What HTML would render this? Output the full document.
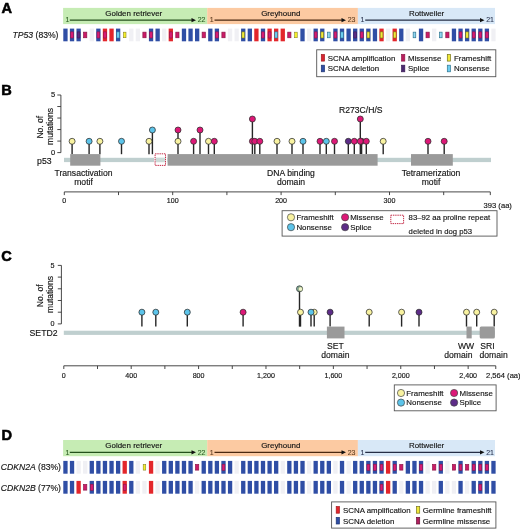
<!DOCTYPE html>
<html><head><meta charset="utf-8"><title>Figure</title>
<style>
html,body{margin:0;padding:0;background:#fff;}
body{width:520px;height:529px;overflow:hidden;}
svg{display:block;}
text{font-family:"Liberation Sans",Arial,sans-serif;fill:#151515;stroke:#151515;stroke-width:0.15px;}
.pl{font-size:14.6px;font-weight:bold;fill:#000;stroke:#000;stroke-width:0.55px;}
.hd{font-size:7.95px;}
.ar{font-size:7.0px;stroke-width:0.08px;}
.gl{font-size:8.6px;}
.lg{font-size:7.9px;}
.tk{font-size:7.1px;}
.yl{font-size:8.5px;}
.an{font-size:8.6px;}
.pr{font-size:8.7px;}
.dm{font-size:8.6px;}
</style></head>
<body>
<svg width="520" height="529" viewBox="0 0 520 529">
<rect width="520" height="529" fill="#fff"/>
<text x="1.6" y="12.7" class="pl">A</text>
<rect x="63.1" y="7.9" width="144.1" height="16.2" fill="#c6ecb4"/>
<rect x="207.2" y="7.9" width="150.7" height="16.2" fill="#fccaa2"/>
<rect x="357.9" y="7.9" width="137.1" height="16.2" fill="#d8e8f7"/>
<text x="133.8" y="15.8" text-anchor="middle" class="hd">Golden retriever</text>
<text x="280.8" y="15.8" text-anchor="middle" class="hd">Greyhound</text>
<text x="426.6" y="15.8" text-anchor="middle" class="hd">Rottweiler</text>
<text x="65.6" y="22.4" class="ar" style="fill:#2a5a22;stroke:#2a5a22">1</text>
<line x1="69.8" y1="20.2" x2="192.5" y2="20.2" stroke="#24501c" stroke-width="1.2"/>
<path d="M191.5,18.099999999999998 L196,20.2 L191.5,22.3 Z" fill="#111"/>
<text x="197.7" y="22.4" class="ar" style="fill:#2a5a22;stroke:#2a5a22">22</text>
<text x="209.7" y="22.4" class="ar" style="fill:#5a3a1e;stroke:#5a3a1e">1</text>
<line x1="214.5" y1="20.2" x2="342.5" y2="20.2" stroke="#4a2810" stroke-width="1.2"/>
<path d="M341.5,18.099999999999998 L346,20.2 L341.5,22.3 Z" fill="#111"/>
<text x="347.7" y="22.4" class="ar" style="fill:#5a3a1e;stroke:#5a3a1e">23</text>
<text x="360.4" y="22.4" class="ar" style="fill:#2b3550;stroke:#2b3550">1</text>
<line x1="365.2" y1="20.2" x2="481.0" y2="20.2" stroke="#252e45" stroke-width="1.2"/>
<path d="M480.0,18.099999999999998 L484.5,20.2 L480.0,22.3 Z" fill="#111"/>
<text x="486.2" y="22.4" class="ar" style="fill:#2b3550;stroke:#2b3550">21</text>
<text x="12.6" y="38.2" class="gl"><tspan font-style="italic">TP53</tspan> (83%)</text>
<rect x="63.30" y="28.6" width="4.3" height="12.70" fill="#2f4ea5"/>
<rect x="69.88" y="28.6" width="4.3" height="12.70" fill="#2f4ea5"/>
<rect x="70.63" y="31.90" width="2.80" height="6.10" fill="#d81b73" stroke="#8e1648" stroke-width="0.6"/>
<rect x="76.47" y="28.6" width="4.3" height="12.70" fill="#2f4ea5"/>
<rect x="77.22" y="31.90" width="2.80" height="6.10" fill="#5b2c83" stroke="#3a1a55" stroke-width="0.6"/>
<rect x="83.60" y="32.16" width="3.20" height="5.59" fill="#cc1c68" stroke="#8e1648" stroke-width="0.7"/>
<rect x="89.64" y="28.6" width="4.3" height="12.70" fill="#f0f0f4"/>
<rect x="96.22" y="28.6" width="4.3" height="12.70" fill="#2f4ea5"/>
<rect x="96.97" y="31.90" width="2.80" height="6.10" fill="#d81b73" stroke="#8e1648" stroke-width="0.6"/>
<rect x="102.81" y="28.6" width="4.3" height="12.70" fill="#e3262b"/>
<rect x="103.56" y="31.90" width="2.80" height="6.10" fill="#d81b73" stroke="#8e1648" stroke-width="0.6"/>
<rect x="109.39" y="28.6" width="4.3" height="12.70" fill="#e3262b"/>
<rect x="115.98" y="28.6" width="4.3" height="12.70" fill="#2f4ea5"/>
<rect x="116.73" y="31.90" width="2.80" height="6.10" fill="#6dcdf0" stroke="#2f7591" stroke-width="0.6"/>
<rect x="123.41" y="32.16" width="2.60" height="5.59" fill="#f6f02c" stroke="#77731a" stroke-width="0.5"/>
<rect x="129.15" y="28.6" width="4.3" height="12.70" fill="#f0f0f4"/>
<rect x="135.74" y="28.6" width="4.3" height="12.70" fill="#f0f0f4"/>
<rect x="142.87" y="32.16" width="3.20" height="5.59" fill="#cc1c68" stroke="#8e1648" stroke-width="0.7"/>
<rect x="148.91" y="28.6" width="4.3" height="12.70" fill="#2f4ea5"/>
<rect x="149.66" y="31.90" width="2.80" height="6.10" fill="#d81b73" stroke="#8e1648" stroke-width="0.6"/>
<rect x="155.49" y="28.6" width="4.3" height="12.70" fill="#2f4ea5"/>
<rect x="162.07" y="28.6" width="4.3" height="12.70" fill="#f0f0f4"/>
<rect x="168.66" y="28.6" width="4.3" height="12.70" fill="#e3262b"/>
<rect x="169.41" y="31.90" width="2.80" height="6.10" fill="#d81b73" stroke="#8e1648" stroke-width="0.6"/>
<rect x="175.80" y="32.16" width="3.20" height="5.59" fill="#cc1c68" stroke="#8e1648" stroke-width="0.7"/>
<rect x="181.83" y="28.6" width="4.3" height="12.70" fill="#2f4ea5"/>
<rect x="188.41" y="28.6" width="4.3" height="12.70" fill="#2f4ea5"/>
<rect x="195.00" y="28.6" width="4.3" height="12.70" fill="#2f4ea5"/>
<rect x="202.13" y="32.16" width="3.20" height="5.59" fill="#cc1c68" stroke="#8e1648" stroke-width="0.7"/>
<rect x="208.17" y="28.6" width="4.3" height="12.70" fill="#2f4ea5"/>
<rect x="214.75" y="28.6" width="4.3" height="12.70" fill="#2f4ea5"/>
<rect x="215.50" y="31.90" width="2.80" height="6.10" fill="#d81b73" stroke="#8e1648" stroke-width="0.6"/>
<rect x="221.89" y="32.16" width="3.20" height="5.59" fill="#cc1c68" stroke="#8e1648" stroke-width="0.7"/>
<rect x="227.93" y="28.6" width="4.3" height="12.70" fill="#f0f0f4"/>
<rect x="234.51" y="28.6" width="4.3" height="12.70" fill="#f0f0f4"/>
<rect x="241.09" y="28.6" width="4.3" height="12.70" fill="#2f4ea5"/>
<rect x="241.84" y="31.90" width="2.80" height="6.10" fill="#f1e93a" stroke="#77731a" stroke-width="0.6"/>
<rect x="247.68" y="28.6" width="4.3" height="12.70" fill="#2f4ea5"/>
<rect x="254.26" y="28.6" width="4.3" height="12.70" fill="#e3262b"/>
<rect x="260.85" y="28.6" width="4.3" height="12.70" fill="#2f4ea5"/>
<rect x="261.60" y="31.90" width="2.80" height="6.10" fill="#d81b73" stroke="#8e1648" stroke-width="0.6"/>
<rect x="267.44" y="28.6" width="4.3" height="12.70" fill="#e3262b"/>
<rect x="268.19" y="31.90" width="2.80" height="6.10" fill="#d81b73" stroke="#8e1648" stroke-width="0.6"/>
<rect x="274.02" y="28.6" width="4.3" height="12.70" fill="#e3262b"/>
<rect x="274.77" y="31.90" width="2.80" height="6.10" fill="#6dcdf0" stroke="#2f7591" stroke-width="0.6"/>
<rect x="280.61" y="28.6" width="4.3" height="12.70" fill="#e3262b"/>
<rect x="287.74" y="32.16" width="3.20" height="5.59" fill="#cc1c68" stroke="#8e1648" stroke-width="0.7"/>
<rect x="294.62" y="32.16" width="2.60" height="5.59" fill="#f6f02c" stroke="#77731a" stroke-width="0.5"/>
<rect x="300.36" y="28.6" width="4.3" height="12.70" fill="#2f4ea5"/>
<rect x="306.94" y="28.6" width="4.3" height="12.70" fill="#f0f0f4"/>
<rect x="313.53" y="28.6" width="4.3" height="12.70" fill="#2f4ea5"/>
<rect x="314.28" y="31.90" width="2.80" height="6.10" fill="#d81b73" stroke="#8e1648" stroke-width="0.6"/>
<rect x="320.12" y="28.6" width="4.3" height="12.70" fill="#2f4ea5"/>
<rect x="320.87" y="31.90" width="2.80" height="6.10" fill="#f1e93a" stroke="#77731a" stroke-width="0.6"/>
<rect x="327.55" y="32.16" width="2.60" height="5.59" fill="#8fd6f0" stroke="#2f7591" stroke-width="0.7"/>
<rect x="333.29" y="28.6" width="4.3" height="12.70" fill="#2f4ea5"/>
<rect x="334.04" y="31.90" width="2.80" height="6.10" fill="#d81b73" stroke="#8e1648" stroke-width="0.6"/>
<rect x="339.87" y="28.6" width="4.3" height="12.70" fill="#2f4ea5"/>
<rect x="340.62" y="31.90" width="2.80" height="6.10" fill="#6dcdf0" stroke="#2f7591" stroke-width="0.6"/>
<rect x="346.45" y="28.6" width="4.3" height="12.70" fill="#2f4ea5"/>
<rect x="353.04" y="28.6" width="4.3" height="12.70" fill="#2f4ea5"/>
<rect x="353.79" y="31.90" width="2.80" height="6.10" fill="#5b2c83" stroke="#3a1a55" stroke-width="0.6"/>
<rect x="359.62" y="28.6" width="4.3" height="12.70" fill="#2f4ea5"/>
<rect x="360.38" y="31.90" width="2.80" height="6.10" fill="#d81b73" stroke="#8e1648" stroke-width="0.6"/>
<rect x="366.21" y="28.6" width="4.3" height="12.70" fill="#2f4ea5"/>
<rect x="366.96" y="31.90" width="2.80" height="6.10" fill="#f1e93a" stroke="#77731a" stroke-width="0.6"/>
<rect x="372.80" y="28.6" width="4.3" height="12.70" fill="#2f4ea5"/>
<rect x="379.38" y="28.6" width="4.3" height="12.70" fill="#e3262b"/>
<rect x="380.13" y="31.90" width="2.80" height="6.10" fill="#f1e93a" stroke="#77731a" stroke-width="0.6"/>
<rect x="385.97" y="28.6" width="4.3" height="12.70" fill="#f0f0f4"/>
<rect x="392.55" y="28.6" width="4.3" height="12.70" fill="#e3262b"/>
<rect x="393.30" y="31.90" width="2.80" height="6.10" fill="#f1e93a" stroke="#77731a" stroke-width="0.6"/>
<rect x="399.13" y="28.6" width="4.3" height="12.70" fill="#2f4ea5"/>
<rect x="405.72" y="28.6" width="4.3" height="12.70" fill="#f0f0f4"/>
<rect x="413.16" y="32.16" width="2.60" height="5.59" fill="#8fd6f0" stroke="#2f7591" stroke-width="0.7"/>
<rect x="418.89" y="28.6" width="4.3" height="12.70" fill="#2f4ea5"/>
<rect x="426.03" y="32.16" width="3.20" height="5.59" fill="#cc1c68" stroke="#8e1648" stroke-width="0.7"/>
<rect x="432.06" y="28.6" width="4.3" height="12.70" fill="#f0f0f4"/>
<rect x="439.50" y="32.16" width="2.60" height="5.59" fill="#8fd6f0" stroke="#2f7591" stroke-width="0.7"/>
<rect x="445.78" y="32.16" width="3.20" height="5.59" fill="#cc1c68" stroke="#8e1648" stroke-width="0.7"/>
<rect x="451.81" y="28.6" width="4.3" height="12.70" fill="#2f4ea5"/>
<rect x="458.40" y="28.6" width="4.3" height="12.70" fill="#2f4ea5"/>
<rect x="459.15" y="31.90" width="2.80" height="6.10" fill="#d81b73" stroke="#8e1648" stroke-width="0.6"/>
<rect x="464.99" y="28.6" width="4.3" height="12.70" fill="#2f4ea5"/>
<rect x="465.74" y="31.90" width="2.80" height="6.10" fill="#f1e93a" stroke="#77731a" stroke-width="0.6"/>
<rect x="471.57" y="28.6" width="4.3" height="12.70" fill="#2f4ea5"/>
<rect x="472.32" y="31.90" width="2.80" height="6.10" fill="#d81b73" stroke="#8e1648" stroke-width="0.6"/>
<rect x="478.16" y="28.6" width="4.3" height="12.70" fill="#2f4ea5"/>
<rect x="478.91" y="31.90" width="2.80" height="6.10" fill="#d81b73" stroke="#8e1648" stroke-width="0.6"/>
<rect x="484.74" y="28.6" width="4.3" height="12.70" fill="#2f4ea5"/>
<rect x="485.49" y="31.90" width="2.80" height="6.10" fill="#d81b73" stroke="#8e1648" stroke-width="0.6"/>
<rect x="491.32" y="28.6" width="4.3" height="12.70" fill="#f0f0f4"/>
<rect x="316.7" y="49.8" width="179.1" height="26.9" fill="#fff" stroke="#555" stroke-width="0.9"/>
<rect x="321.3" y="54.5" width="3.2" height="6.6" fill="#d82430" stroke="#a01a1e" stroke-width="0.7"/>
<rect x="321.3" y="65.2" width="3.2" height="6.6" fill="#2f4ea5" stroke="#1e3470" stroke-width="0.7"/>
<text x="327.8" y="60.6" class="lg">SCNA amplification</text>
<text x="327.8" y="71.3" class="lg">SCNA deletion</text>
<rect x="401.6" y="54.5" width="3.2" height="6.6" fill="#b81e5c" stroke="#8e1648" stroke-width="0.7"/>
<rect x="401.6" y="65.2" width="3.2" height="6.6" fill="#4a2a70" stroke="#3a1a55" stroke-width="0.7"/>
<text x="408" y="60.6" class="lg">Missense</text>
<text x="408" y="71.3" class="lg">Splice</text>
<rect x="447.3" y="54.5" width="3.2" height="6.6" fill="#f1e93a" stroke="#77731a" stroke-width="0.7"/>
<rect x="447.3" y="65.2" width="3.2" height="6.6" fill="#6dcdf0" stroke="#2f7591" stroke-width="0.7"/>
<text x="454" y="60.6" class="lg">Frameshift</text>
<text x="454" y="71.3" class="lg">Nonsense</text>
<text x="1.2" y="94.6" class="pl">B</text>
<line x1="60.9" y1="95.0" x2="60.9" y2="152.6" stroke="#333" stroke-width="0.9"/>
<line x1="57.3" y1="152.60" x2="60.9" y2="152.60" stroke="#333" stroke-width="0.9"/>
<line x1="57.3" y1="141.08" x2="60.9" y2="141.08" stroke="#333" stroke-width="0.9"/>
<line x1="57.3" y1="129.56" x2="60.9" y2="129.56" stroke="#333" stroke-width="0.9"/>
<line x1="57.3" y1="118.04" x2="60.9" y2="118.04" stroke="#333" stroke-width="0.9"/>
<line x1="57.3" y1="106.52" x2="60.9" y2="106.52" stroke="#333" stroke-width="0.9"/>
<line x1="57.3" y1="95.00" x2="60.9" y2="95.00" stroke="#333" stroke-width="0.9"/>
<text x="55.2" y="97.1" text-anchor="end" class="tk" style="font-size:7.5px">5</text>
<text x="55.2" y="155.0" text-anchor="end" class="tk" style="font-size:7.5px">0</text>
<text transform="translate(42.6,127.2) rotate(-90)" text-anchor="middle" class="yl">No. of</text>
<text transform="translate(53.2,126.5) rotate(-90)" text-anchor="middle" class="yl">mutations</text>
<line x1="72.1" y1="154.2" x2="72.1" y2="141.30" stroke="#262626" stroke-width="1.4"/>
<line x1="89.1" y1="154.2" x2="89.1" y2="141.30" stroke="#262626" stroke-width="1.4"/>
<line x1="99.9" y1="154.2" x2="99.9" y2="141.30" stroke="#262626" stroke-width="1.4"/>
<line x1="121.5" y1="154.2" x2="121.5" y2="141.30" stroke="#262626" stroke-width="1.4"/>
<line x1="149.0" y1="154.2" x2="149.0" y2="141.30" stroke="#262626" stroke-width="1.4"/>
<line x1="152.4" y1="154.2" x2="152.4" y2="130.00" stroke="#262626" stroke-width="1.4"/>
<line x1="178.0" y1="154.2" x2="178.0" y2="130.00" stroke="#262626" stroke-width="1.4"/>
<line x1="193.6" y1="154.2" x2="193.6" y2="141.30" stroke="#262626" stroke-width="1.4"/>
<line x1="200.0" y1="154.2" x2="200.0" y2="130.00" stroke="#262626" stroke-width="1.4"/>
<line x1="208.5" y1="154.2" x2="208.5" y2="141.30" stroke="#262626" stroke-width="1.4"/>
<line x1="214.3" y1="154.2" x2="214.3" y2="141.30" stroke="#262626" stroke-width="1.4"/>
<line x1="252.4" y1="154.2" x2="252.4" y2="119.00" stroke="#262626" stroke-width="1.4"/>
<line x1="254.8" y1="154.2" x2="254.8" y2="141.30" stroke="#262626" stroke-width="1.4"/>
<line x1="259.8" y1="154.2" x2="259.8" y2="141.30" stroke="#262626" stroke-width="1.4"/>
<line x1="277.0" y1="154.2" x2="277.0" y2="141.30" stroke="#262626" stroke-width="1.4"/>
<line x1="292.0" y1="154.2" x2="292.0" y2="141.30" stroke="#262626" stroke-width="1.4"/>
<line x1="303.0" y1="154.2" x2="303.0" y2="141.30" stroke="#262626" stroke-width="1.4"/>
<line x1="320.0" y1="154.2" x2="320.0" y2="141.30" stroke="#262626" stroke-width="1.4"/>
<line x1="326.3" y1="154.2" x2="326.3" y2="141.30" stroke="#262626" stroke-width="1.4"/>
<line x1="334.5" y1="154.2" x2="334.5" y2="141.30" stroke="#262626" stroke-width="1.4"/>
<line x1="348.3" y1="154.2" x2="348.3" y2="141.30" stroke="#262626" stroke-width="1.4"/>
<line x1="354.3" y1="154.2" x2="354.3" y2="141.30" stroke="#262626" stroke-width="1.4"/>
<line x1="361.6" y1="154.2" x2="361.6" y2="141.30" stroke="#262626" stroke-width="1.4"/>
<line x1="360.3" y1="154.2" x2="360.3" y2="119.00" stroke="#262626" stroke-width="1.4"/>
<line x1="366.3" y1="154.2" x2="366.3" y2="141.30" stroke="#262626" stroke-width="1.4"/>
<line x1="383.2" y1="154.2" x2="383.2" y2="141.30" stroke="#262626" stroke-width="1.4"/>
<line x1="428.0" y1="154.2" x2="428.0" y2="141.30" stroke="#262626" stroke-width="1.4"/>
<line x1="444.2" y1="154.2" x2="444.2" y2="141.30" stroke="#262626" stroke-width="1.4"/>
<rect x="64" y="157.8" width="427" height="4.3" fill="#bfcfcf"/>
<rect x="70.2" y="154.1" width="30.2" height="11.6" fill="#9a9a9a"/>
<rect x="167.6" y="154.1" width="210" height="11.6" fill="#9a9a9a"/>
<rect x="411" y="154.1" width="41.8" height="11.6" fill="#9a9a9a"/>
<rect x="154.0" y="157.8" width="13.2" height="4.3" fill="#fff"/>
<rect x="155.6" y="157.8" width="9.6" height="4.3" fill="#ccdad7"/>
<rect x="155.1" y="153.8" width="10.4" height="11.6" fill="none" stroke="#c42c48" stroke-width="1.0" stroke-dasharray="1.4,0.8"/>
<circle cx="72.1" cy="141.30" r="3.0" fill="#f8f2a0" stroke="#2e2e2e" stroke-width="0.75"/>
<circle cx="89.1" cy="141.30" r="3.0" fill="#5cc4ea" stroke="#2e2e2e" stroke-width="0.75"/>
<circle cx="99.9" cy="141.30" r="3.0" fill="#f8f2a0" stroke="#2e2e2e" stroke-width="0.75"/>
<circle cx="121.5" cy="141.30" r="3.0" fill="#5cc4ea" stroke="#2e2e2e" stroke-width="0.75"/>
<circle cx="149.0" cy="141.30" r="3.0" fill="#f8f2a0" stroke="#2e2e2e" stroke-width="0.75"/>
<circle cx="152.4" cy="130.00" r="3.0" fill="#5cc4ea" stroke="#2e2e2e" stroke-width="0.75"/>
<circle cx="178.0" cy="141.30" r="3.0" fill="#f8f2a0" stroke="#2e2e2e" stroke-width="0.75"/>
<circle cx="178.0" cy="130.00" r="3.0" fill="#dd1877" stroke="#2e2e2e" stroke-width="0.75"/>
<circle cx="193.6" cy="141.30" r="3.0" fill="#dd1877" stroke="#2e2e2e" stroke-width="0.75"/>
<circle cx="200.0" cy="130.00" r="3.0" fill="#dd1877" stroke="#2e2e2e" stroke-width="0.75"/>
<circle cx="208.5" cy="141.30" r="3.0" fill="#f8f2a0" stroke="#2e2e2e" stroke-width="0.75"/>
<circle cx="214.3" cy="141.30" r="3.0" fill="#dd1877" stroke="#2e2e2e" stroke-width="0.75"/>
<circle cx="252.4" cy="141.30" r="3.0" fill="#dd1877" stroke="#2e2e2e" stroke-width="0.75"/>
<circle cx="252.4" cy="119.00" r="3.0" fill="#dd1877" stroke="#2e2e2e" stroke-width="0.75"/>
<circle cx="254.8" cy="141.30" r="3.0" fill="#dd1877" stroke="#2e2e2e" stroke-width="0.75"/>
<circle cx="259.8" cy="141.30" r="3.0" fill="#dd1877" stroke="#2e2e2e" stroke-width="0.75"/>
<circle cx="277.0" cy="141.30" r="3.0" fill="#f8f2a0" stroke="#2e2e2e" stroke-width="0.75"/>
<circle cx="292.0" cy="141.30" r="3.0" fill="#f8f2a0" stroke="#2e2e2e" stroke-width="0.75"/>
<circle cx="303.0" cy="141.30" r="3.0" fill="#5cc4ea" stroke="#2e2e2e" stroke-width="0.75"/>
<circle cx="320.0" cy="141.30" r="3.0" fill="#dd1877" stroke="#2e2e2e" stroke-width="0.75"/>
<circle cx="326.3" cy="141.30" r="3.0" fill="#5cc4ea" stroke="#2e2e2e" stroke-width="0.75"/>
<circle cx="334.5" cy="141.30" r="3.0" fill="#dd1877" stroke="#2e2e2e" stroke-width="0.75"/>
<circle cx="348.3" cy="141.30" r="3.0" fill="#5d2c88" stroke="#2e2e2e" stroke-width="0.75"/>
<circle cx="354.3" cy="141.30" r="3.0" fill="#dd1877" stroke="#2e2e2e" stroke-width="0.75"/>
<circle cx="361.6" cy="141.30" r="3.0" fill="#dd1877" stroke="#2e2e2e" stroke-width="0.75"/>
<circle cx="360.3" cy="141.30" r="3.0" fill="#dd1877" stroke="#2e2e2e" stroke-width="0.75"/>
<circle cx="360.3" cy="119.00" r="3.0" fill="#dd1877" stroke="#2e2e2e" stroke-width="0.75"/>
<circle cx="366.3" cy="141.30" r="3.0" fill="#dd1877" stroke="#2e2e2e" stroke-width="0.75"/>
<circle cx="383.2" cy="141.30" r="3.0" fill="#f8f2a0" stroke="#2e2e2e" stroke-width="0.75"/>
<circle cx="428.0" cy="141.30" r="3.0" fill="#dd1877" stroke="#2e2e2e" stroke-width="0.75"/>
<circle cx="444.2" cy="141.30" r="3.0" fill="#dd1877" stroke="#2e2e2e" stroke-width="0.75"/>
<text x="360.8" y="113.4" text-anchor="middle" class="an">R273C/H/S</text>
<text x="44.3" y="163.5" text-anchor="middle" class="pr">p53</text>
<text x="83.5" y="176.2" text-anchor="middle" class="dm">Transactivation</text>
<text x="83.5" y="184.6" text-anchor="middle" class="dm">motif</text>
<text x="291" y="176.2" text-anchor="middle" class="dm">DNA binding</text>
<text x="291" y="184.6" text-anchor="middle" class="dm">domain</text>
<text x="431" y="176.2" text-anchor="middle" class="dm">Tetramerization</text>
<text x="431" y="184.6" text-anchor="middle" class="dm">motif</text>
<line x1="64.30" y1="191.9" x2="490.31" y2="191.9" stroke="#333" stroke-width="0.9"/>
<line x1="64.30" y1="191.9" x2="64.30" y2="195.1" stroke="#333" stroke-width="0.9"/>
<line x1="118.50" y1="191.9" x2="118.50" y2="195.1" stroke="#333" stroke-width="0.9"/>
<line x1="172.70" y1="191.9" x2="172.70" y2="195.1" stroke="#333" stroke-width="0.9"/>
<line x1="226.90" y1="191.9" x2="226.90" y2="195.1" stroke="#333" stroke-width="0.9"/>
<line x1="281.10" y1="191.9" x2="281.10" y2="195.1" stroke="#333" stroke-width="0.9"/>
<line x1="335.30" y1="191.9" x2="335.30" y2="195.1" stroke="#333" stroke-width="0.9"/>
<line x1="389.50" y1="191.9" x2="389.50" y2="195.1" stroke="#333" stroke-width="0.9"/>
<line x1="443.70" y1="191.9" x2="443.70" y2="195.1" stroke="#333" stroke-width="0.9"/>
<line x1="490.31" y1="191.9" x2="490.31" y2="195.1" stroke="#333" stroke-width="0.9"/>
<text x="64.30" y="202.8" text-anchor="middle" class="tk">0</text>
<text x="172.70" y="202.8" text-anchor="middle" class="tk">100</text>
<text x="281.10" y="202.8" text-anchor="middle" class="tk">200</text>
<text x="389.50" y="202.8" text-anchor="middle" class="tk">300</text>
<text x="483.6" y="207.6" class="tk" style="font-size:7.6px">393 (aa)</text>
<rect x="282.1" y="210.7" width="214.9" height="25.4" fill="#fff" stroke="#555" stroke-width="0.9"/>
<circle cx="291" cy="217.3" r="3.6" fill="#f8f2a0" stroke="#444" stroke-width="0.7"/>
<circle cx="291" cy="227.2" r="3.6" fill="#5cc4ea" stroke="#444" stroke-width="0.7"/>
<text x="296.4" y="220.1" class="lg">Frameshift</text>
<text x="296.4" y="230.0" class="lg">Nonsense</text>
<circle cx="345.1" cy="217.3" r="3.6" fill="#dd1877" stroke="#444" stroke-width="0.7"/>
<circle cx="345.1" cy="227.2" r="3.6" fill="#5d2c88" stroke="#444" stroke-width="0.7"/>
<text x="350.2" y="220.1" class="lg">Missense</text>
<text x="350.2" y="230.0" class="lg">Splice</text>
<rect x="390.8" y="215.2" width="12.8" height="8.4" fill="none" stroke="#c42c48" stroke-width="1.0" stroke-dasharray="1.4,0.8"/>
<text x="408.6" y="220.3" class="lg" style="font-size:7.72px">83–92 aa proline repeat</text>
<text x="408.6" y="234.0" class="lg" style="font-size:7.72px">deleted in dog p53</text>
<text x="1.2" y="261.4" class="pl">C</text>
<line x1="61.4" y1="265.4" x2="61.4" y2="323.9" stroke="#333" stroke-width="0.9"/>
<line x1="57.8" y1="323.90" x2="61.4" y2="323.90" stroke="#333" stroke-width="0.9"/>
<line x1="57.8" y1="312.20" x2="61.4" y2="312.20" stroke="#333" stroke-width="0.9"/>
<line x1="57.8" y1="300.50" x2="61.4" y2="300.50" stroke="#333" stroke-width="0.9"/>
<line x1="57.8" y1="288.80" x2="61.4" y2="288.80" stroke="#333" stroke-width="0.9"/>
<line x1="57.8" y1="277.10" x2="61.4" y2="277.10" stroke="#333" stroke-width="0.9"/>
<line x1="57.8" y1="265.40" x2="61.4" y2="265.40" stroke="#333" stroke-width="0.9"/>
<text x="54.6" y="267.9" text-anchor="end" class="tk" style="font-size:7.2px">5</text>
<text x="54.6" y="326.4" text-anchor="end" class="tk" style="font-size:7.2px">0</text>
<text transform="translate(42.6,295.8) rotate(-90)" text-anchor="middle" class="yl">No. of</text>
<text transform="translate(53.4,294.5) rotate(-90)" text-anchor="middle" class="yl">mutations</text>
<line x1="141.9" y1="326.6" x2="141.9" y2="312.20" stroke="#262626" stroke-width="1.4"/>
<line x1="155.8" y1="326.6" x2="155.8" y2="312.20" stroke="#262626" stroke-width="1.4"/>
<line x1="187.3" y1="326.6" x2="187.3" y2="312.20" stroke="#262626" stroke-width="1.4"/>
<line x1="243.1" y1="326.6" x2="243.1" y2="312.20" stroke="#262626" stroke-width="1.4"/>
<line x1="299.5" y1="326.6" x2="299.5" y2="288.80" stroke="#262626" stroke-width="1.4"/>
<line x1="300.5" y1="326.6" x2="300.5" y2="312.20" stroke="#262626" stroke-width="1.4"/>
<line x1="314.2" y1="326.6" x2="314.2" y2="312.20" stroke="#262626" stroke-width="1.4"/>
<line x1="311.0" y1="326.6" x2="311.0" y2="312.20" stroke="#262626" stroke-width="1.4"/>
<line x1="330.1" y1="326.6" x2="330.1" y2="312.20" stroke="#262626" stroke-width="1.4"/>
<line x1="369.2" y1="326.6" x2="369.2" y2="312.20" stroke="#262626" stroke-width="1.4"/>
<line x1="401.6" y1="326.6" x2="401.6" y2="312.20" stroke="#262626" stroke-width="1.4"/>
<line x1="419.0" y1="326.6" x2="419.0" y2="312.20" stroke="#262626" stroke-width="1.4"/>
<line x1="466.5" y1="326.6" x2="466.5" y2="312.20" stroke="#262626" stroke-width="1.4"/>
<line x1="476.7" y1="326.6" x2="476.7" y2="312.20" stroke="#262626" stroke-width="1.4"/>
<line x1="494.2" y1="326.6" x2="494.2" y2="312.20" stroke="#262626" stroke-width="1.4"/>
<rect x="63.8" y="330.7" width="431" height="4.2" fill="#bfcfcf"/>
<rect x="326.9" y="326.6" width="17.6" height="11.8" fill="#9a9a9a"/>
<rect x="466.5" y="326.6" width="5.2" height="11.8" fill="#9a9a9a"/>
<rect x="479.7" y="326.6" width="15.2" height="11.8" rx="1.5" fill="#9a9a9a"/>
<circle cx="141.9" cy="312.20" r="3.0" fill="#5cc4ea" stroke="#2e2e2e" stroke-width="0.75"/>
<circle cx="155.8" cy="312.20" r="3.0" fill="#5cc4ea" stroke="#2e2e2e" stroke-width="0.75"/>
<circle cx="187.3" cy="312.20" r="3.0" fill="#5cc4ea" stroke="#2e2e2e" stroke-width="0.75"/>
<circle cx="243.1" cy="312.20" r="3.0" fill="#dd1877" stroke="#2e2e2e" stroke-width="0.75"/>
<circle cx="299.5" cy="288.80" r="3.0" fill="#8dbfae" stroke="#2e2e2e" stroke-width="0.75"/>
<circle cx="300.40" cy="289.00" r="2.3" fill="#eef3c8" stroke="#4a5a40" stroke-width="0.5"/>
<circle cx="300.5" cy="312.20" r="3.0" fill="#f8f2a0" stroke="#2e2e2e" stroke-width="0.75"/>
<circle cx="314.2" cy="312.20" r="3.0" fill="#f8f2a0" stroke="#2e2e2e" stroke-width="0.75"/>
<circle cx="311.0" cy="312.20" r="3.0" fill="#5cc4ea" stroke="#2e2e2e" stroke-width="0.75"/>
<circle cx="330.1" cy="312.20" r="3.0" fill="#5d2c88" stroke="#2e2e2e" stroke-width="0.75"/>
<circle cx="369.2" cy="312.20" r="3.0" fill="#f8f2a0" stroke="#2e2e2e" stroke-width="0.75"/>
<circle cx="401.6" cy="312.20" r="3.0" fill="#f8f2a0" stroke="#2e2e2e" stroke-width="0.75"/>
<circle cx="419.0" cy="312.20" r="3.0" fill="#5d2c88" stroke="#2e2e2e" stroke-width="0.75"/>
<circle cx="466.5" cy="312.20" r="3.0" fill="#f8f2a0" stroke="#2e2e2e" stroke-width="0.75"/>
<circle cx="476.7" cy="312.20" r="3.0" fill="#f8f2a0" stroke="#2e2e2e" stroke-width="0.75"/>
<circle cx="494.2" cy="312.20" r="3.0" fill="#f8f2a0" stroke="#2e2e2e" stroke-width="0.75"/>
<text x="43.6" y="335.6" text-anchor="middle" class="pr">SETD2</text>
<text x="335.4" y="348.5" text-anchor="middle" class="dm">SET</text>
<text x="335.4" y="358.4" text-anchor="middle" class="dm">domain</text>
<text x="466" y="348.5" text-anchor="middle" class="dm">WW</text>
<text x="458.4" y="358.4" text-anchor="middle" class="dm">domain</text>
<text x="487.5" y="348.5" text-anchor="middle" class="dm">SRI</text>
<text x="493.6" y="358.4" text-anchor="middle" class="dm">domain</text>
<line x1="63.80" y1="365.8" x2="495.78" y2="365.8" stroke="#333" stroke-width="0.9"/>
<line x1="63.80" y1="365.8" x2="63.80" y2="369.0" stroke="#333" stroke-width="0.9"/>
<line x1="97.50" y1="365.8" x2="97.50" y2="369.0" stroke="#333" stroke-width="0.9"/>
<line x1="131.19" y1="365.8" x2="131.19" y2="369.0" stroke="#333" stroke-width="0.9"/>
<line x1="164.89" y1="365.8" x2="164.89" y2="369.0" stroke="#333" stroke-width="0.9"/>
<line x1="198.58" y1="365.8" x2="198.58" y2="369.0" stroke="#333" stroke-width="0.9"/>
<line x1="232.28" y1="365.8" x2="232.28" y2="369.0" stroke="#333" stroke-width="0.9"/>
<line x1="265.98" y1="365.8" x2="265.98" y2="369.0" stroke="#333" stroke-width="0.9"/>
<line x1="299.67" y1="365.8" x2="299.67" y2="369.0" stroke="#333" stroke-width="0.9"/>
<line x1="333.37" y1="365.8" x2="333.37" y2="369.0" stroke="#333" stroke-width="0.9"/>
<line x1="367.06" y1="365.8" x2="367.06" y2="369.0" stroke="#333" stroke-width="0.9"/>
<line x1="400.76" y1="365.8" x2="400.76" y2="369.0" stroke="#333" stroke-width="0.9"/>
<line x1="434.46" y1="365.8" x2="434.46" y2="369.0" stroke="#333" stroke-width="0.9"/>
<line x1="468.15" y1="365.8" x2="468.15" y2="369.0" stroke="#333" stroke-width="0.9"/>
<line x1="495.78" y1="365.8" x2="495.78" y2="369.0" stroke="#333" stroke-width="0.9"/>
<text x="63.80" y="378.3" text-anchor="middle" class="tk">0</text>
<text x="131.19" y="378.3" text-anchor="middle" class="tk">400</text>
<text x="198.58" y="378.3" text-anchor="middle" class="tk">800</text>
<text x="265.98" y="378.3" text-anchor="middle" class="tk">1,200</text>
<text x="333.37" y="378.3" text-anchor="middle" class="tk">1,600</text>
<text x="400.76" y="378.3" text-anchor="middle" class="tk">2,000</text>
<text x="468.15" y="378.3" text-anchor="middle" class="tk">2,400</text>
<text x="486.0" y="378.3" class="tk" style="font-size:7.6px">2,564 (aa)</text>
<rect x="394.3" y="384.9" width="101.8" height="25.9" fill="#fff" stroke="#555" stroke-width="0.9"/>
<circle cx="401" cy="393" r="3.6" fill="#f8f2a0" stroke="#444" stroke-width="0.7"/>
<circle cx="401" cy="402.6" r="3.6" fill="#5cc4ea" stroke="#444" stroke-width="0.7"/>
<text x="406.3" y="395.8" class="lg">Frameshift</text>
<text x="406.3" y="405.4" class="lg">Nonsense</text>
<circle cx="454.1" cy="393" r="3.6" fill="#dd1877" stroke="#444" stroke-width="0.7"/>
<circle cx="454.1" cy="402.6" r="3.6" fill="#5d2c88" stroke="#444" stroke-width="0.7"/>
<text x="459.6" y="395.8" class="lg">Missense</text>
<text x="459.6" y="405.4" class="lg">Splice</text>
<text x="1.4" y="439.7" class="pl">D</text>
<rect x="63.1" y="440.0" width="144.1" height="16.2" fill="#c6ecb4"/>
<rect x="207.2" y="440.0" width="150.7" height="16.2" fill="#fccaa2"/>
<rect x="357.9" y="440.0" width="137.1" height="16.2" fill="#d8e8f7"/>
<text x="133.8" y="447.90000000000003" text-anchor="middle" class="hd">Golden retriever</text>
<text x="280.8" y="447.90000000000003" text-anchor="middle" class="hd">Greyhound</text>
<text x="426.6" y="447.90000000000003" text-anchor="middle" class="hd">Rottweiler</text>
<text x="65.6" y="454.5" class="ar" style="fill:#2a5a22;stroke:#2a5a22">1</text>
<line x1="69.8" y1="452.3" x2="192.5" y2="452.3" stroke="#24501c" stroke-width="1.2"/>
<path d="M191.5,450.2 L196,452.3 L191.5,454.40000000000003 Z" fill="#111"/>
<text x="197.7" y="454.5" class="ar" style="fill:#2a5a22;stroke:#2a5a22">22</text>
<text x="209.7" y="454.5" class="ar" style="fill:#5a3a1e;stroke:#5a3a1e">1</text>
<line x1="214.5" y1="452.3" x2="342.5" y2="452.3" stroke="#4a2810" stroke-width="1.2"/>
<path d="M341.5,450.2 L346,452.3 L341.5,454.40000000000003 Z" fill="#111"/>
<text x="347.7" y="454.5" class="ar" style="fill:#5a3a1e;stroke:#5a3a1e">23</text>
<text x="360.4" y="454.5" class="ar" style="fill:#2b3550;stroke:#2b3550">1</text>
<line x1="365.2" y1="452.3" x2="481.0" y2="452.3" stroke="#252e45" stroke-width="1.2"/>
<path d="M480.0,450.2 L484.5,452.3 L480.0,454.40000000000003 Z" fill="#111"/>
<text x="486.2" y="454.5" class="ar" style="fill:#2b3550;stroke:#2b3550">21</text>
<text x="0.8" y="469.9" class="gl"><tspan font-style="italic">CDKN2A</tspan> (83%)</text>
<text x="0.8" y="490.5" class="gl"><tspan font-style="italic">CDKN2B</tspan> (77%)</text>
<rect x="63.30" y="460.9" width="4.3" height="12.80" fill="#2f4ea5"/>
<rect x="69.88" y="460.9" width="4.3" height="12.80" fill="#2f4ea5"/>
<rect x="76.47" y="460.9" width="4.3" height="12.80" fill="#f0f0f4"/>
<rect x="83.05" y="460.9" width="4.3" height="12.80" fill="#f0f0f4"/>
<rect x="89.64" y="460.9" width="4.3" height="12.80" fill="#2f4ea5"/>
<rect x="96.22" y="460.9" width="4.3" height="12.80" fill="#2f4ea5"/>
<rect x="102.81" y="460.9" width="4.3" height="12.80" fill="#2f4ea5"/>
<rect x="109.39" y="460.9" width="4.3" height="12.80" fill="#2f4ea5"/>
<rect x="115.98" y="460.9" width="4.3" height="12.80" fill="#2f4ea5"/>
<rect x="122.56" y="460.9" width="4.3" height="12.80" fill="#e3262b"/>
<rect x="129.15" y="460.9" width="4.3" height="12.80" fill="#2f4ea5"/>
<rect x="135.74" y="460.9" width="4.3" height="12.80" fill="#f0f0f4"/>
<rect x="143.17" y="464.48" width="2.60" height="5.63" fill="#f6f02c" stroke="#77731a" stroke-width="0.5"/>
<rect x="148.91" y="460.9" width="4.3" height="12.80" fill="#e3262b"/>
<rect x="155.49" y="460.9" width="4.3" height="12.80" fill="#f0f0f4"/>
<rect x="162.07" y="460.9" width="4.3" height="12.80" fill="#2f4ea5"/>
<rect x="168.66" y="460.9" width="4.3" height="12.80" fill="#2f4ea5"/>
<rect x="175.25" y="460.9" width="4.3" height="12.80" fill="#2f4ea5"/>
<rect x="181.83" y="460.9" width="4.3" height="12.80" fill="#2f4ea5"/>
<rect x="188.41" y="460.9" width="4.3" height="12.80" fill="#2f4ea5"/>
<rect x="195.55" y="464.48" width="3.20" height="5.63" fill="#cc1c68" stroke="#8e1648" stroke-width="0.7"/>
<rect x="201.58" y="460.9" width="4.3" height="12.80" fill="#2f4ea5"/>
<rect x="208.17" y="460.9" width="4.3" height="12.80" fill="#2f4ea5"/>
<rect x="214.75" y="460.9" width="4.3" height="12.80" fill="#2f4ea5"/>
<rect x="221.34" y="460.9" width="4.3" height="12.80" fill="#2f4ea5"/>
<rect x="222.09" y="464.23" width="2.80" height="6.14" fill="#d81b73" stroke="#8e1648" stroke-width="0.6"/>
<rect x="227.93" y="460.9" width="4.3" height="12.80" fill="#2f4ea5"/>
<rect x="234.51" y="460.9" width="4.3" height="12.80" fill="#f0f0f4"/>
<rect x="241.09" y="460.9" width="4.3" height="12.80" fill="#2f4ea5"/>
<rect x="247.68" y="460.9" width="4.3" height="12.80" fill="#2f4ea5"/>
<rect x="254.26" y="460.9" width="4.3" height="12.80" fill="#2f4ea5"/>
<rect x="260.85" y="460.9" width="4.3" height="12.80" fill="#2f4ea5"/>
<rect x="267.44" y="460.9" width="4.3" height="12.80" fill="#2f4ea5"/>
<rect x="274.02" y="460.9" width="4.3" height="12.80" fill="#2f4ea5"/>
<rect x="280.61" y="460.9" width="4.3" height="12.80" fill="#f0f0f4"/>
<rect x="287.19" y="460.9" width="4.3" height="12.80" fill="#2f4ea5"/>
<rect x="293.77" y="460.9" width="4.3" height="12.80" fill="#2f4ea5"/>
<rect x="300.36" y="460.9" width="4.3" height="12.80" fill="#2f4ea5"/>
<rect x="306.94" y="460.9" width="4.3" height="12.80" fill="#f0f0f4"/>
<rect x="313.53" y="460.9" width="4.3" height="12.80" fill="#2f4ea5"/>
<rect x="320.12" y="460.9" width="4.3" height="12.80" fill="#2f4ea5"/>
<rect x="326.70" y="460.9" width="4.3" height="12.80" fill="#2f4ea5"/>
<rect x="333.29" y="460.9" width="4.3" height="12.80" fill="#f0f0f4"/>
<rect x="339.87" y="460.9" width="4.3" height="12.80" fill="#2f4ea5"/>
<rect x="346.45" y="460.9" width="4.3" height="12.80" fill="#f0f0f4"/>
<rect x="353.04" y="460.9" width="4.3" height="12.80" fill="#2f4ea5"/>
<rect x="359.62" y="460.9" width="4.3" height="12.80" fill="#2f4ea5"/>
<rect x="366.21" y="460.9" width="4.3" height="12.80" fill="#2f4ea5"/>
<rect x="366.96" y="464.23" width="2.80" height="6.14" fill="#d81b73" stroke="#8e1648" stroke-width="0.6"/>
<rect x="372.80" y="460.9" width="4.3" height="12.80" fill="#2f4ea5"/>
<rect x="373.55" y="464.23" width="2.80" height="6.14" fill="#d81b73" stroke="#8e1648" stroke-width="0.6"/>
<rect x="379.38" y="460.9" width="4.3" height="12.80" fill="#2f4ea5"/>
<rect x="380.13" y="464.23" width="2.80" height="6.14" fill="#d81b73" stroke="#8e1648" stroke-width="0.6"/>
<rect x="385.97" y="460.9" width="4.3" height="12.80" fill="#e3262b"/>
<rect x="392.55" y="460.9" width="4.3" height="12.80" fill="#2f4ea5"/>
<rect x="393.30" y="464.23" width="2.80" height="6.14" fill="#d81b73" stroke="#8e1648" stroke-width="0.6"/>
<rect x="399.69" y="464.48" width="3.20" height="5.63" fill="#cc1c68" stroke="#8e1648" stroke-width="0.7"/>
<rect x="405.72" y="460.9" width="4.3" height="12.80" fill="#2f4ea5"/>
<rect x="412.31" y="460.9" width="4.3" height="12.80" fill="#2f4ea5"/>
<rect x="418.89" y="460.9" width="4.3" height="12.80" fill="#2f4ea5"/>
<rect x="419.64" y="464.23" width="2.80" height="6.14" fill="#d81b73" stroke="#8e1648" stroke-width="0.6"/>
<rect x="425.48" y="460.9" width="4.3" height="12.80" fill="#f0f0f4"/>
<rect x="432.61" y="464.48" width="3.20" height="5.63" fill="#cc1c68" stroke="#8e1648" stroke-width="0.7"/>
<rect x="438.64" y="460.9" width="4.3" height="12.80" fill="#2f4ea5"/>
<rect x="439.39" y="464.23" width="2.80" height="6.14" fill="#d81b73" stroke="#8e1648" stroke-width="0.6"/>
<rect x="445.23" y="460.9" width="4.3" height="12.80" fill="#f0f0f4"/>
<rect x="452.37" y="464.48" width="3.20" height="5.63" fill="#cc1c68" stroke="#8e1648" stroke-width="0.7"/>
<rect x="458.40" y="460.9" width="4.3" height="12.80" fill="#2f4ea5"/>
<rect x="459.15" y="464.23" width="2.80" height="6.14" fill="#d81b73" stroke="#8e1648" stroke-width="0.6"/>
<rect x="465.54" y="464.48" width="3.20" height="5.63" fill="#cc1c68" stroke="#8e1648" stroke-width="0.7"/>
<rect x="471.57" y="460.9" width="4.3" height="12.80" fill="#2f4ea5"/>
<rect x="472.32" y="464.23" width="2.80" height="6.14" fill="#d81b73" stroke="#8e1648" stroke-width="0.6"/>
<rect x="478.16" y="460.9" width="4.3" height="12.80" fill="#2f4ea5"/>
<rect x="478.91" y="464.23" width="2.80" height="6.14" fill="#d81b73" stroke="#8e1648" stroke-width="0.6"/>
<rect x="484.74" y="460.9" width="4.3" height="12.80" fill="#2f4ea5"/>
<rect x="485.49" y="464.23" width="2.80" height="6.14" fill="#d81b73" stroke="#8e1648" stroke-width="0.6"/>
<rect x="491.32" y="460.9" width="4.3" height="12.80" fill="#2f4ea5"/>
<rect x="63.30" y="480.9" width="4.3" height="12.80" fill="#2f4ea5"/>
<rect x="69.88" y="480.9" width="4.3" height="12.80" fill="#2f4ea5"/>
<rect x="76.47" y="480.9" width="4.3" height="12.80" fill="#e3262b"/>
<rect x="83.60" y="484.48" width="3.20" height="5.63" fill="#cc1c68" stroke="#8e1648" stroke-width="0.7"/>
<rect x="89.64" y="480.9" width="4.3" height="12.80" fill="#2f4ea5"/>
<rect x="90.39" y="484.23" width="2.80" height="6.14" fill="#d81b73" stroke="#8e1648" stroke-width="0.6"/>
<rect x="96.22" y="480.9" width="4.3" height="12.80" fill="#2f4ea5"/>
<rect x="102.81" y="480.9" width="4.3" height="12.80" fill="#2f4ea5"/>
<rect x="109.39" y="480.9" width="4.3" height="12.80" fill="#2f4ea5"/>
<rect x="115.98" y="480.9" width="4.3" height="12.80" fill="#2f4ea5"/>
<rect x="122.56" y="480.9" width="4.3" height="12.80" fill="#e3262b"/>
<rect x="123.31" y="484.23" width="2.80" height="6.14" fill="#d81b73" stroke="#8e1648" stroke-width="0.6"/>
<rect x="129.15" y="480.9" width="4.3" height="12.80" fill="#2f4ea5"/>
<rect x="135.74" y="480.9" width="4.3" height="12.80" fill="#f0f0f4"/>
<rect x="142.32" y="480.9" width="4.3" height="12.80" fill="#f0f0f4"/>
<rect x="148.91" y="480.9" width="4.3" height="12.80" fill="#e3262b"/>
<rect x="155.49" y="480.9" width="4.3" height="12.80" fill="#f0f0f4"/>
<rect x="162.07" y="480.9" width="4.3" height="12.80" fill="#2f4ea5"/>
<rect x="168.66" y="480.9" width="4.3" height="12.80" fill="#2f4ea5"/>
<rect x="175.25" y="480.9" width="4.3" height="12.80" fill="#2f4ea5"/>
<rect x="181.83" y="480.9" width="4.3" height="12.80" fill="#2f4ea5"/>
<rect x="188.41" y="480.9" width="4.3" height="12.80" fill="#2f4ea5"/>
<rect x="195.00" y="480.9" width="4.3" height="12.80" fill="#f0f0f4"/>
<rect x="201.58" y="480.9" width="4.3" height="12.80" fill="#2f4ea5"/>
<rect x="208.17" y="480.9" width="4.3" height="12.80" fill="#2f4ea5"/>
<rect x="214.75" y="480.9" width="4.3" height="12.80" fill="#2f4ea5"/>
<rect x="221.34" y="480.9" width="4.3" height="12.80" fill="#2f4ea5"/>
<rect x="227.93" y="480.9" width="4.3" height="12.80" fill="#2f4ea5"/>
<rect x="234.51" y="480.9" width="4.3" height="12.80" fill="#f0f0f4"/>
<rect x="241.09" y="480.9" width="4.3" height="12.80" fill="#2f4ea5"/>
<rect x="247.68" y="480.9" width="4.3" height="12.80" fill="#2f4ea5"/>
<rect x="254.26" y="480.9" width="4.3" height="12.80" fill="#2f4ea5"/>
<rect x="260.85" y="480.9" width="4.3" height="12.80" fill="#2f4ea5"/>
<rect x="267.44" y="480.9" width="4.3" height="12.80" fill="#2f4ea5"/>
<rect x="274.02" y="480.9" width="4.3" height="12.80" fill="#2f4ea5"/>
<rect x="280.61" y="480.9" width="4.3" height="12.80" fill="#f0f0f4"/>
<rect x="287.19" y="480.9" width="4.3" height="12.80" fill="#2f4ea5"/>
<rect x="293.77" y="480.9" width="4.3" height="12.80" fill="#2f4ea5"/>
<rect x="300.36" y="480.9" width="4.3" height="12.80" fill="#2f4ea5"/>
<rect x="306.94" y="480.9" width="4.3" height="12.80" fill="#f0f0f4"/>
<rect x="313.53" y="480.9" width="4.3" height="12.80" fill="#2f4ea5"/>
<rect x="320.12" y="480.9" width="4.3" height="12.80" fill="#2f4ea5"/>
<rect x="326.70" y="480.9" width="4.3" height="12.80" fill="#2f4ea5"/>
<rect x="333.29" y="480.9" width="4.3" height="12.80" fill="#f0f0f4"/>
<rect x="339.87" y="480.9" width="4.3" height="12.80" fill="#2f4ea5"/>
<rect x="346.45" y="480.9" width="4.3" height="12.80" fill="#f0f0f4"/>
<rect x="353.04" y="480.9" width="4.3" height="12.80" fill="#2f4ea5"/>
<rect x="359.62" y="480.9" width="4.3" height="12.80" fill="#2f4ea5"/>
<rect x="366.21" y="480.9" width="4.3" height="12.80" fill="#2f4ea5"/>
<rect x="372.80" y="480.9" width="4.3" height="12.80" fill="#2f4ea5"/>
<rect x="379.38" y="480.9" width="4.3" height="12.80" fill="#2f4ea5"/>
<rect x="380.13" y="484.23" width="2.80" height="6.14" fill="#d81b73" stroke="#8e1648" stroke-width="0.6"/>
<rect x="385.97" y="480.9" width="4.3" height="12.80" fill="#e3262b"/>
<rect x="392.55" y="480.9" width="4.3" height="12.80" fill="#2f4ea5"/>
<rect x="399.13" y="480.9" width="4.3" height="12.80" fill="#f0f0f4"/>
<rect x="405.72" y="480.9" width="4.3" height="12.80" fill="#2f4ea5"/>
<rect x="412.31" y="480.9" width="4.3" height="12.80" fill="#2f4ea5"/>
<rect x="418.89" y="480.9" width="4.3" height="12.80" fill="#2f4ea5"/>
<rect x="425.48" y="480.9" width="4.3" height="12.80" fill="#f0f0f4"/>
<rect x="432.06" y="480.9" width="4.3" height="12.80" fill="#f0f0f4"/>
<rect x="438.64" y="480.9" width="4.3" height="12.80" fill="#2f4ea5"/>
<rect x="445.23" y="480.9" width="4.3" height="12.80" fill="#f0f0f4"/>
<rect x="451.81" y="480.9" width="4.3" height="12.80" fill="#f0f0f4"/>
<rect x="458.40" y="480.9" width="4.3" height="12.80" fill="#2f4ea5"/>
<rect x="464.99" y="480.9" width="4.3" height="12.80" fill="#f0f0f4"/>
<rect x="471.57" y="480.9" width="4.3" height="12.80" fill="#2f4ea5"/>
<rect x="478.16" y="480.9" width="4.3" height="12.80" fill="#2f4ea5"/>
<rect x="478.91" y="484.23" width="2.80" height="6.14" fill="#d81b73" stroke="#8e1648" stroke-width="0.6"/>
<rect x="484.74" y="480.9" width="4.3" height="12.80" fill="#2f4ea5"/>
<rect x="491.32" y="480.9" width="4.3" height="12.80" fill="#2f4ea5"/>
<rect x="331.6" y="501.9" width="164.3" height="26.2" fill="#fff" stroke="#555" stroke-width="0.9"/>
<rect x="336.2" y="506.6" width="3.2" height="6.6" fill="#e3262b" stroke="#a01a1e" stroke-width="0.7"/>
<rect x="336.2" y="517.4" width="3.2" height="6.6" fill="#2f4ea5" stroke="#1e3470" stroke-width="0.7"/>
<text x="343" y="512.9" class="lg">SCNA amplification</text>
<text x="343" y="523.5" class="lg">SCNA deletion</text>
<rect x="416.5" y="506.6" width="3.2" height="6.6" fill="#f1e93a" stroke="#77731a" stroke-width="0.7"/>
<rect x="416.5" y="517.4" width="3.2" height="6.6" fill="#b0205e" stroke="#6a1038" stroke-width="0.7"/>
<text x="422.7" y="512.9" class="lg">Germline frameshift</text>
<text x="422.7" y="523.5" class="lg">Germline missense</text>
</svg>
</body></html>
